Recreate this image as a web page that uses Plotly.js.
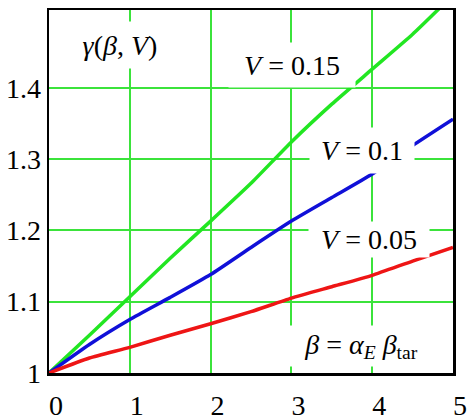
<!DOCTYPE html>
<html>
<head>
<meta charset="utf-8">
<script src="https://cdn.plot.ly/plotly-3.0.1.min.js"></script>
<style>
  html, body { margin: 0; padding: 0; background: white; }
  #chart { width: 474px; height: 420px; }
</style>
</head>
<body>
<div id="chart"></div>
<script>
// Values
const beta = [0, 0.5, 1, 1.5, 2, 2.5, 3, 3.5, 4, 4.5, 5];
const gammaV015 = [1, 1.053, 1.107, 1.161, 1.213, 1.266, 1.324, 1.377, 1.426, 1.475, 1.53];
const gammaV010 = [1, 1.04, 1.075, 1.106, 1.138, 1.176, 1.213, 1.246, 1.279, 1.319, 1.356];
const gammaV005 = [1, 1.021, 1.036, 1.053, 1.069, 1.086, 1.105, 1.121, 1.137, 1.157, 1.176];

const xTicks = [0, 1, 2, 3, 4, 5];
const yTicks = [1, 1.1, 1.2, 1.3, 1.4];
const yTickText = ['1', '1.1', '1.2', '1.3', '1.4'];

const serif = 'Liberation Serif';

function curve(y, color) {
    return {
        x: beta,
        y: y,
        type: 'scatter',
        mode: 'lines',
        line: { color: color, width: 3.5, shape: 'spline', smoothing: 0.5 },
        hoverinfo: 'skip'
    };
}

const data = [
    curve(gammaV015, '#22e622'),
    curve(gammaV010, '#1010d8'),
    curve(gammaV005, '#ee1515')
];

// label boxes are opaque so they cut the grid and the curves, as in the original
function label(text, x, y, w, h) {
    return {
        text: text,
        x: x, y: y, xref: 'x', yref: 'y',
        showarrow: false,
        width: w, height: h,
        borderpad: 0,
        bgcolor: 'white',
        xanchor: 'center', yanchor: 'middle',
        font: { family: serif, size: 28, color: 'black' }
    };
}

const annotations = [
    label('<i>γ</i>(<i>β</i>, <i>V</i>)', 0.882, 1.46, 96, 46),
    label('<i>V</i> = 0.15', 3.012, 1.4315, 126, 44),
    label('<i>V</i> = 0.1', 3.87, 1.312, 104, 45),
    label('<i>V</i> = 0.05', 3.963, 1.187, 120, 35),
    label('<i>β</i> = <i>α<sub>E</sub></i> <i>β</i><sub>tar</sub>', 3.863, 1.0375, 148, 40)
];

const axisCommon = {
    showgrid: true,
    gridcolor: '#3be33b',
    gridwidth: 2,
    zeroline: false,
    showline: true,
    linecolor: 'black',
    linewidth: 2.5,
    mirror: true,
    ticks: '',
    tickfont: { family: serif, size: 28, color: 'black' }
};

const layout = {
    width: 474,
    height: 420,
    margin: { l: 49, r: 21, t: 10, b: 47, pad: 0 },
    font: { family: serif, color: 'black' },
    paper_bgcolor: 'white',
    plot_bgcolor: 'white',
    showlegend: false,
    xaxis: Object.assign({}, axisCommon, {
        range: [0, 5],
        tickvals: xTicks,
        ticktext: xTicks.map(String),
        ticklabelshift: 7,
        ticklabelstandoff: 6
    }),
    yaxis: Object.assign({}, axisCommon, {
        range: [1, 1.509],
        tickvals: yTicks,
        ticktext: yTickText,
        ticklabelstandoff: 0
    }),
    annotations: annotations
};

Plotly.newPlot('chart', data, layout, { staticPlot: true, displayModeBar: false });
</script>
</body>
</html>
